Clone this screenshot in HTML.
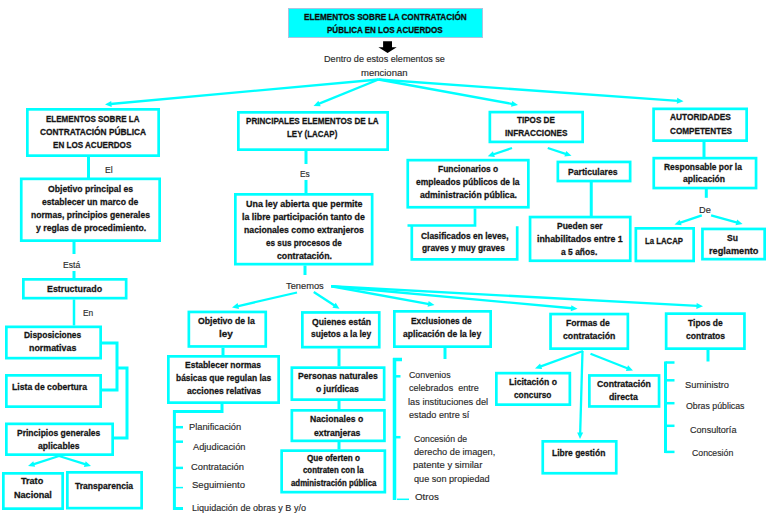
<!DOCTYPE html>
<html><head><meta charset="utf-8"><style>
html,body{margin:0;padding:0;background:#fff;}
body{width:768px;height:515px;position:relative;overflow:hidden;font-family:"Liberation Sans",sans-serif;}
.b{position:absolute;box-sizing:border-box;border:3px solid #00FFFF;}
.t{position:absolute;white-space:nowrap;line-height:1;transform-origin:0 0;}
.w7{-webkit-text-stroke:0.28px #151515;}
.w4{-webkit-text-stroke:0.15px #2a2a2a;}
svg{position:absolute;left:0;top:0;}
svg line,svg polyline,svg rect{stroke:#00FFFF;}
svg rect{fill:none;}
svg polygon{fill:#00FFFF;}
</style></head><body>

<div class="b" style="left:288px;top:8px;width:195px;height:30px;border:1px solid #a9c4e0;background:#00ffff"></div>
<svg width="768" height="515" viewBox="0 0 768 515">
<rect x="27.35" y="109.35" width="131.3" height="46.3" stroke-width="2.7"/>
<rect x="21.25" y="178.85" width="138.4" height="61.8" stroke-width="2.7"/>
<rect x="23.35" y="279.35" width="102.8" height="18.8" stroke-width="2.7"/>
<rect x="6.35" y="326.85" width="94.3" height="31.3" stroke-width="2.7"/>
<rect x="6.35" y="375.35" width="94.3" height="31.3" stroke-width="2.7"/>
<rect x="6.35" y="423.85" width="106.3" height="30.8" stroke-width="2.7"/>
<rect x="3.35" y="473.35" width="59.3" height="35.3" stroke-width="2.7"/>
<rect x="67.35" y="472.35" width="74.3" height="35.8" stroke-width="2.7"/>
<rect x="238.35" y="112.35" width="149.3" height="37.3" stroke-width="2.7"/>
<rect x="235.35" y="194.35" width="136.8" height="69.8" stroke-width="2.7"/>
<rect x="188.85" y="311.95" width="76.9" height="34.5" stroke-width="2.7"/>
<rect x="168.35" y="356.35" width="110.3" height="46.3" stroke-width="2.7"/>
<rect x="302.35" y="312.45" width="76.9" height="34.7" stroke-width="2.7"/>
<rect x="291.85" y="367.65" width="92.3" height="32" stroke-width="2.7"/>
<rect x="291.85" y="410.35" width="92.6" height="30.5" stroke-width="2.7"/>
<rect x="281.65" y="450.65" width="103.2" height="41.5" stroke-width="2.7"/>
<rect x="394.35" y="311.35" width="96.3" height="35.3" stroke-width="2.7"/>
<rect x="550.55" y="314.05" width="77.3" height="34.6" stroke-width="2.7"/>
<rect x="666.15" y="313.65" width="78.3" height="35" stroke-width="2.7"/>
<rect x="496.35" y="373.15" width="73.5" height="31.5" stroke-width="2.7"/>
<rect x="589.35" y="375.45" width="69.7" height="31" stroke-width="2.7"/>
<rect x="542.75" y="441.35" width="73.5" height="31.9" stroke-width="2.7"/>
<rect x="489.85" y="112.1" width="92.8" height="29.8" stroke-width="2.7"/>
<rect x="653.6" y="108.85" width="93.05" height="31.8" stroke-width="2.7"/>
<rect x="407.75" y="160.15" width="120.6" height="47.1" stroke-width="2.7"/>
<rect x="557.85" y="161.95" width="72.3" height="19.1" stroke-width="2.7"/>
<rect x="530.05" y="217.05" width="100.2" height="43.7" stroke-width="2.7"/>
<rect x="653.75" y="158.15" width="102.3" height="29.9" stroke-width="2.7"/>
<rect x="635.85" y="228.35" width="57.8" height="32.6" stroke-width="2.7"/>
<rect x="702.45" y="228.95" width="62.2" height="30.2" stroke-width="2.7"/>
<line x1="378.5" y1="79.5" x2="110.48" y2="104" stroke-width="2.3"/>
<polygon points="105,104.5 111.2,100.92 111.75,106.9" stroke="none"/>
<line x1="378.5" y1="79.5" x2="318.59" y2="103.92" stroke-width="2.3"/>
<polygon points="313.5,106 318.39,100.77 320.65,106.32" stroke="none"/>
<line x1="378.5" y1="79.5" x2="512.59" y2="104.01" stroke-width="2.3"/>
<polygon points="518,105 511.07,106.78 512.15,100.88" stroke="none"/>
<line x1="378.5" y1="79.5" x2="678.01" y2="100.91" stroke-width="2.3"/>
<polygon points="683.5,101.3 676.8,103.83 677.23,97.84" stroke="none"/>
<line x1="88.5" y1="157" x2="88.5" y2="178" stroke-width="3"/>
<line x1="74" y1="242" x2="74" y2="254" stroke-width="3"/>
<line x1="74" y1="271" x2="74" y2="278" stroke-width="3"/>
<line x1="74" y1="299.5" x2="74" y2="325.5" stroke-width="2.5"/>
<polyline points="102,343 117,343 117,390 102,390" stroke-width="3" fill="none"/>
<polyline points="117,368 127,368 127,438 114,438" stroke-width="3" fill="none"/>
<line x1="59" y1="456" x2="33.23" y2="464.31" stroke-width="2.3"/>
<polygon points="28,466 33.27,461.15 35.11,466.86" stroke="none"/>
<line x1="59" y1="456" x2="85.75" y2="464.36" stroke-width="2.3"/>
<polygon points="91,466 83.9,466.92 85.69,461.2" stroke="none"/>
<line x1="306" y1="151" x2="306" y2="164" stroke-width="3"/>
<line x1="306" y1="180" x2="306" y2="193" stroke-width="3"/>
<line x1="305" y1="265.5" x2="305" y2="275" stroke-width="3"/>
<line x1="297" y1="292.5" x2="237.36" y2="306.26" stroke-width="2.3"/>
<polygon points="232,307.5 237.66,303.12 239.01,308.96" stroke="none"/>
<line x1="313.75" y1="292" x2="334.89" y2="305.75" stroke-width="2.3"/>
<polygon points="339.5,308.75 332.42,307.72 335.69,302.69" stroke="none"/>
<line x1="331.25" y1="286.25" x2="429.09" y2="304.02" stroke-width="2.3"/>
<polygon points="434.5,305 427.57,306.79 428.64,300.89" stroke="none"/>
<line x1="331.25" y1="286.25" x2="572.02" y2="308.25" stroke-width="2.3"/>
<polygon points="577.5,308.75 570.75,311.15 571.3,305.17" stroke="none"/>
<line x1="331.25" y1="286.25" x2="697.51" y2="305.95" stroke-width="2.3"/>
<polygon points="703,306.25 696.35,308.9 696.67,302.91" stroke="none"/>
<line x1="223" y1="347.8" x2="223" y2="355" stroke-width="3"/>
<polyline points="222,403.6 222,411.5 174.4,411.5 174.4,508.5 183,508.5" stroke-width="3" fill="none"/>
<line x1="174.4" y1="427.2" x2="183" y2="427.2" stroke-width="2.5"/>
<line x1="174.4" y1="441.7" x2="183" y2="441.7" stroke-width="2.5"/>
<line x1="174.4" y1="467.9" x2="183" y2="467.9" stroke-width="2.5"/>
<line x1="174.4" y1="487.6" x2="183" y2="487.6" stroke-width="1.5"/>
<line x1="339" y1="348.5" x2="339" y2="366.3" stroke-width="3"/>
<line x1="339" y1="401" x2="339" y2="409.2" stroke-width="3"/>
<line x1="339" y1="441.5" x2="339" y2="449.5" stroke-width="3"/>
<line x1="445" y1="348" x2="445" y2="359" stroke-width="3"/>
<line x1="394.5" y1="358" x2="394.5" y2="500" stroke-width="3.5"/>
<line x1="393" y1="359.5" x2="402" y2="359.5" stroke-width="3.5"/>
<line x1="394.5" y1="376.3" x2="400.5" y2="376.3" stroke-width="2.5"/>
<line x1="394.5" y1="437.2" x2="400.5" y2="437.2" stroke-width="2.5"/>
<line x1="397" y1="499.3" x2="409" y2="499.3" stroke-width="1.5"/>
<line x1="583" y1="351" x2="540.17" y2="366.62" stroke-width="2.3"/>
<polygon points="535,368.5 540.08,363.46 542.13,369.09" stroke="none"/>
<line x1="582.5" y1="351" x2="580.16" y2="433.5" stroke-width="2.3"/>
<polygon points="580,439 577.19,432.42 583.18,432.59" stroke="none"/>
<line x1="590.5" y1="353.75" x2="627.88" y2="368.48" stroke-width="2.3"/>
<polygon points="633,370.5 625.85,370.91 628.05,365.33" stroke="none"/>
<line x1="708" y1="350" x2="708" y2="361.5" stroke-width="3"/>
<line x1="665.5" y1="361.5" x2="665.5" y2="453" stroke-width="3"/>
<line x1="665.5" y1="362.5" x2="674.5" y2="362.5" stroke-width="2.5"/>
<line x1="665.5" y1="380.3" x2="674.5" y2="380.3" stroke-width="2.5"/>
<line x1="665.5" y1="403.2" x2="674.5" y2="403.2" stroke-width="2.5"/>
<line x1="665.5" y1="425.8" x2="674.5" y2="425.8" stroke-width="2.5"/>
<line x1="665.5" y1="451.9" x2="674.5" y2="451.9" stroke-width="2.5"/>
<line x1="512" y1="148" x2="492.96" y2="154.48" stroke-width="2.3"/>
<polygon points="487.75,156.25 492.94,151.32 494.87,157" stroke="none"/>
<line x1="547.75" y1="148" x2="566.27" y2="154.04" stroke-width="2.3"/>
<polygon points="571.5,155.75 564.39,156.59 566.25,150.88" stroke="none"/>
<polyline points="475,208.6 475,225.5 407.5,225.5" stroke-width="2.7" fill="none"/>
<polyline points="411.8,225.5 411.8,259.3 517.2,259.3 517.2,226.3" stroke-width="2.7" fill="none"/>
<line x1="591.25" y1="182" x2="591.25" y2="216.25" stroke-width="3"/>
<line x1="704" y1="142" x2="704" y2="157.25" stroke-width="3"/>
<line x1="706.3" y1="189" x2="706.3" y2="197.8" stroke-width="3"/>
<line x1="701.8" y1="215.3" x2="679.71" y2="222.83" stroke-width="2.3"/>
<polygon points="674.5,224.6 679.69,219.66 681.62,225.34" stroke="none"/>
<line x1="711.1" y1="215.3" x2="737.3" y2="222.62" stroke-width="2.3"/>
<polygon points="742.6,224.1 735.53,225.24 737.15,219.46" stroke="none"/>
<polygon points="383.1,41.2 392,41.2 392,47.25 396.7,47.25 387.6,52.9 378.4,47.25 383.1,47.25" style="fill:#000" stroke="none"/>
</svg>
<div class="t w7" style="left:304px;top:13.1px;font-size:8.3px;font-weight:700;color:#0a0a0a;transform:scaleX(0.9878)">ELEMENTOS SOBRE LA CONTRATACIÓN</div>
<div class="t w7" style="left:327.3px;top:25.9px;font-size:8.3px;font-weight:700;color:#0a0a0a;transform:scaleX(0.9697)">PÚBLICA EN LOS ACUERDOS</div>
<div class="t w4" style="left:323.82px;top:55.1px;font-size:9.3px;font-weight:400;color:#2a2a2a;transform:scaleX(0.9787)">Dentro de estos elementos se</div>
<div class="t w4" style="left:361.48px;top:68.5px;font-size:9.3px;font-weight:400;color:#2a2a2a;transform:scaleX(1.0227)">mencionan</div>
<div class="t w7" style="left:46.16px;top:114.1px;font-size:9.6px;font-weight:700;color:#151515;transform:scaleX(0.8364)">ELEMENTOS SOBRE LA</div>
<div class="t w7" style="left:40.25px;top:127.4px;font-size:9.6px;font-weight:700;color:#151515;transform:scaleX(0.8719)">CONTRATACIÓN PÚBLICA</div>
<div class="t w7" style="left:53.41px;top:140.3px;font-size:9.6px;font-weight:700;color:#151515;transform:scaleX(0.8424)">EN LOS ACUERDOS</div>
<div class="t w4" style="left:105.02px;top:165.8px;font-size:9.3px;font-weight:400;color:#2a2a2a;transform:scaleX(0.9286)">El</div>
<div class="t w7" style="left:48.22px;top:183.5px;font-size:9.6px;font-weight:700;color:#151515;transform:scaleX(0.9016)">Objetivo principal es</div>
<div class="t w7" style="left:42.28px;top:196.6px;font-size:9.6px;font-weight:700;color:#151515;transform:scaleX(0.8995)">establecer un marco de</div>
<div class="t w7" style="left:30.83px;top:209.9px;font-size:9.6px;font-weight:700;color:#151515;transform:scaleX(0.8920)">normas, principios generales</div>
<div class="t w7" style="left:35.53px;top:223px;font-size:9.6px;font-weight:700;color:#151515;transform:scaleX(0.9070)">y reglas de procedimiento.</div>
<div class="t w4" style="left:62.69px;top:261.3px;font-size:9.3px;font-weight:400;color:#2a2a2a;transform:scaleX(0.9306)">Está</div>
<div class="t w7" style="left:46.58px;top:284.05px;font-size:9.6px;font-weight:700;color:#151515;transform:scaleX(0.9224)">Estructurado</div>
<div class="t w4" style="left:83.1px;top:308.8px;font-size:9.3px;font-weight:400;color:#2a2a2a;transform:scaleX(0.9000)">En</div>
<div class="t w7" style="left:24.1px;top:330.3px;font-size:9.6px;font-weight:700;color:#151515;transform:scaleX(0.8789)">Disposiciones</div>
<div class="t w7" style="left:29.05px;top:343.4px;font-size:9.6px;font-weight:700;color:#151515;transform:scaleX(0.9250)">normativas</div>
<div class="t w7" style="left:12.1px;top:381.9px;font-size:9.6px;font-weight:700;color:#151515;transform:scaleX(0.9024)">Lista de cobertura</div>
<div class="t w7" style="left:16.61px;top:427.5px;font-size:9.6px;font-weight:700;color:#151515;transform:scaleX(0.8871)">Principios generales</div>
<div class="t w7" style="left:38.27px;top:440.6px;font-size:9.6px;font-weight:700;color:#151515;transform:scaleX(0.8967)">aplicables</div>
<div class="t w7" style="left:21.23px;top:476.3px;font-size:9.6px;font-weight:700;color:#151515;transform:scaleX(0.9457)">Trato</div>
<div class="t w7" style="left:13.55px;top:489.8px;font-size:9.6px;font-weight:700;color:#151515;transform:scaleX(0.9474)">Nacional</div>
<div class="t w7" style="left:75px;top:481.3px;font-size:9.6px;font-weight:700;color:#151515;transform:scaleX(0.8923)">Transparencia</div>
<div class="t w7" style="left:245.66px;top:115.9px;font-size:9.6px;font-weight:700;color:#151515;transform:scaleX(0.8429)">PRINCIPALES ELEMENTOS DE LA</div>
<div class="t w7" style="left:287.42px;top:129.2px;font-size:9.6px;font-weight:700;color:#151515;transform:scaleX(0.8305)">LEY (LACAP)</div>
<div class="t w4" style="left:300.1px;top:170.05px;font-size:9.3px;font-weight:400;color:#2a2a2a;transform:scaleX(0.9000)">Es</div>
<div class="t w7" style="left:246.27px;top:198.6px;font-size:9.6px;font-weight:700;color:#151515;transform:scaleX(0.9300)">Una ley abierta que permite</div>
<div class="t w7" style="left:242.3px;top:211.6px;font-size:9.6px;font-weight:700;color:#151515;transform:scaleX(0.9223)">la libre participación tanto de</div>
<div class="t w7" style="left:243.92px;top:224.6px;font-size:9.6px;font-weight:700;color:#151515;transform:scaleX(0.9065)">nacionales como extranjeros</div>
<div class="t w7" style="left:266.32px;top:237.9px;font-size:9.6px;font-weight:700;color:#151515;transform:scaleX(0.8511)">es sus procesos de</div>
<div class="t w7" style="left:276.82px;top:250.7px;font-size:9.6px;font-weight:700;color:#151515;transform:scaleX(0.9125)">contratación.</div>
<div class="t w4" style="left:286px;top:282.05px;font-size:9.3px;font-weight:400;color:#2a2a2a;transform:scaleX(1.0000)">Tenemos</div>
<div class="t w7" style="left:197.85px;top:315.8px;font-size:9.6px;font-weight:700;color:#151515;transform:scaleX(0.9032)">Objetivo de la</div>
<div class="t w7" style="left:219.46px;top:328.7px;font-size:9.6px;font-weight:700;color:#151515;transform:scaleX(1.0417)">ley</div>
<div class="t w7" style="left:185.22px;top:359.9px;font-size:9.6px;font-weight:700;color:#151515;transform:scaleX(0.8847)">Establecer normas</div>
<div class="t w7" style="left:175.72px;top:373.3px;font-size:9.6px;font-weight:700;color:#151515;transform:scaleX(0.8785)">básicas que regulan las</div>
<div class="t w7" style="left:187.15px;top:386.4px;font-size:9.6px;font-weight:700;color:#151515;transform:scaleX(0.8939)">acciones relativas</div>
<div class="t w4" style="left:189px;top:423px;font-size:9.3px;font-weight:400;color:#2a2a2a;transform:scaleX(1.0000)">Planificación</div>
<div class="t w4" style="left:193.3px;top:443.3px;font-size:9.3px;font-weight:400;color:#2a2a2a;transform:scaleX(0.9942)">Adjudicación</div>
<div class="t w4" style="left:190.7px;top:462.9px;font-size:9.3px;font-weight:400;color:#2a2a2a;transform:scaleX(1.0058)">Contratación</div>
<div class="t w4" style="left:191.78px;top:480.5px;font-size:9.3px;font-weight:400;color:#2a2a2a;transform:scaleX(1.0240)">Seguimiento</div>
<div class="t w4" style="left:191.82px;top:503.6px;font-size:9.3px;font-weight:400;color:#2a2a2a;transform:scaleX(0.9759)">Liquidación de obras y B y/o</div>
<div class="t w7" style="left:311.5px;top:316.7px;font-size:9.6px;font-weight:700;color:#151515;transform:scaleX(0.9015)">Quienes están</div>
<div class="t w7" style="left:310.75px;top:328.7px;font-size:9.6px;font-weight:700;color:#151515;transform:scaleX(0.8824)">sujetos a la ley</div>
<div class="t w7" style="left:297.9px;top:371.1px;font-size:9.6px;font-weight:700;color:#151515;transform:scaleX(0.9011)">Personas naturales</div>
<div class="t w7" style="left:316.25px;top:383.7px;font-size:9.6px;font-weight:700;color:#151515;transform:scaleX(0.8937)">o jurídicas</div>
<div class="t w7" style="left:310.35px;top:414.3px;font-size:9.6px;font-weight:700;color:#151515;transform:scaleX(0.8983)">Nacionales o</div>
<div class="t w7" style="left:314.2px;top:427.6px;font-size:9.6px;font-weight:700;color:#151515;transform:scaleX(0.9059)">extranjeras</div>
<div class="t w7" style="left:307px;top:454.3px;font-size:8.5px;font-weight:700;color:#151515;transform:scaleX(0.9600)">Que oferten o</div>
<div class="t w7" style="left:302.9px;top:466.4px;font-size:8.5px;font-weight:700;color:#151515;transform:scaleX(0.9242)">contraten con la</div>
<div class="t w7" style="left:290.5px;top:478.5px;font-size:8.5px;font-weight:700;color:#151515;transform:scaleX(0.9226)">administración pública</div>
<div class="t w7" style="left:411.13px;top:316px;font-size:9.6px;font-weight:700;color:#151515;transform:scaleX(0.8696)">Exclusiones de</div>
<div class="t w7" style="left:403.02px;top:328.8px;font-size:9.6px;font-weight:700;color:#151515;transform:scaleX(0.8937)">aplicación de la ley</div>
<div class="t w4" style="left:408.8px;top:371.3px;font-size:9.3px;font-weight:400;color:#2a2a2a;transform:scaleX(0.9477)">Convenios</div>
<div class="t w4" style="left:408.8px;top:384.1px;font-size:9.3px;font-weight:400;color:#2a2a2a;transform:scaleX(0.9708)">celebrados  entre</div>
<div class="t w4" style="left:407.81px;top:397.6px;font-size:9.3px;font-weight:400;color:#2a2a2a;transform:scaleX(0.9937)">las instituciones del</div>
<div class="t w4" style="left:408.8px;top:411px;font-size:9.3px;font-weight:400;color:#2a2a2a;transform:scaleX(0.9820)">estado entre sí</div>
<div class="t w4" style="left:414.3px;top:435.05px;font-size:9.3px;font-weight:400;color:#2a2a2a;transform:scaleX(0.9333)">Concesión de</div>
<div class="t w4" style="left:414.3px;top:448.2px;font-size:9.3px;font-weight:400;color:#2a2a2a;transform:scaleX(0.9889)">derecho de imagen,</div>
<div class="t w4" style="left:413.28px;top:461px;font-size:9.3px;font-weight:400;color:#2a2a2a;transform:scaleX(1.0242)">patente y similar</div>
<div class="t w4" style="left:414.3px;top:474.5px;font-size:9.3px;font-weight:400;color:#2a2a2a;transform:scaleX(0.9818)">que son propiedad</div>
<div class="t w4" style="left:415.2px;top:492.7px;font-size:9.3px;font-weight:400;color:#2a2a2a;transform:scaleX(1.0500)">Otros</div>
<div class="t w7" style="left:566.35px;top:318.2px;font-size:9.6px;font-weight:700;color:#151515;transform:scaleX(0.9043)">Formas de</div>
<div class="t w7" style="left:562.6px;top:331.1px;font-size:9.6px;font-weight:700;color:#151515;transform:scaleX(0.9088)">contratación</div>
<div class="t w7" style="left:687.75px;top:317.9px;font-size:9.6px;font-weight:700;color:#151515;transform:scaleX(0.8846)">Tipos de</div>
<div class="t w7" style="left:685.98px;top:331px;font-size:9.6px;font-weight:700;color:#151515;transform:scaleX(0.8920)">contratos</div>
<div class="t w4" style="left:685.2px;top:380.6px;font-size:9.3px;font-weight:400;color:#2a2a2a;transform:scaleX(1.0023)">Suministro</div>
<div class="t w4" style="left:686px;top:402.3px;font-size:9.3px;font-weight:400;color:#2a2a2a;transform:scaleX(0.9435)">Obras públicas</div>
<div class="t w4" style="left:689.7px;top:425.6px;font-size:9.3px;font-weight:400;color:#2a2a2a;transform:scaleX(0.9766)">Consultoría</div>
<div class="t w4" style="left:692px;top:449.3px;font-size:9.3px;font-weight:400;color:#2a2a2a;transform:scaleX(0.9386)">Concesión</div>
<div class="t w7" style="left:508.63px;top:377px;font-size:9.6px;font-weight:700;color:#151515;transform:scaleX(0.8990)">Licitación o</div>
<div class="t w7" style="left:514.48px;top:390px;font-size:9.6px;font-weight:700;color:#151515;transform:scaleX(0.8663)">concurso</div>
<div class="t w7" style="left:597.02px;top:379.1px;font-size:9.6px;font-weight:700;color:#151515;transform:scaleX(0.9110)">Contratación</div>
<div class="t w7" style="left:609.48px;top:392.3px;font-size:9.6px;font-weight:700;color:#151515;transform:scaleX(0.9141)">directa</div>
<div class="t w7" style="left:552.49px;top:448.4px;font-size:9.6px;font-weight:700;color:#151515;transform:scaleX(0.8856)">Libre gestión</div>
<div class="t w7" style="left:517.25px;top:115.3px;font-size:9.6px;font-weight:700;color:#151515;transform:scaleX(0.8444)">TIPOS DE</div>
<div class="t w7" style="left:504.9px;top:128.3px;font-size:9.6px;font-weight:700;color:#151515;transform:scaleX(0.8542)">INFRACCIONES</div>
<div class="t w7" style="left:670.23px;top:112.3px;font-size:9.6px;font-weight:700;color:#151515;transform:scaleX(0.8679)">AUTORIDADES</div>
<div class="t w7" style="left:669.75px;top:125.5px;font-size:9.6px;font-weight:700;color:#151515;transform:scaleX(0.8493)">COMPETENTES</div>
<div class="t w7" style="left:437.88px;top:164.1px;font-size:9.6px;font-weight:700;color:#151515;transform:scaleX(0.8750)">Funcionarios o</div>
<div class="t w7" style="left:416.23px;top:177.3px;font-size:9.6px;font-weight:700;color:#151515;transform:scaleX(0.8868)">empleados públicos de la</div>
<div class="t w7" style="left:419.93px;top:190.4px;font-size:9.6px;font-weight:700;color:#151515;transform:scaleX(0.9042)">administración pública.</div>
<div class="t w7" style="left:420.5px;top:230.8px;font-size:9.6px;font-weight:700;color:#151515;transform:scaleX(0.8788)">Clasificados en leves,</div>
<div class="t w7" style="left:422px;top:243.2px;font-size:9.6px;font-weight:700;color:#151515;transform:scaleX(0.8737)">graves y muy graves</div>
<div class="t w7" style="left:568.32px;top:166.55px;font-size:9.6px;font-weight:700;color:#151515;transform:scaleX(0.9028)">Particulares</div>
<div class="t w7" style="left:556.62px;top:220.7px;font-size:9.6px;font-weight:700;color:#151515;transform:scaleX(0.8824)">Pueden ser</div>
<div class="t w7" style="left:536.58px;top:233.9px;font-size:9.6px;font-weight:700;color:#151515;transform:scaleX(0.9185)">inhabilitados entre 1</div>
<div class="t w7" style="left:561.27px;top:246.9px;font-size:9.6px;font-weight:700;color:#151515;transform:scaleX(0.8841)">a 5 años.</div>
<div class="t w7" style="left:664.32px;top:161.7px;font-size:9.6px;font-weight:700;color:#151515;transform:scaleX(0.8795)">Responsable por la</div>
<div class="t w7" style="left:683.1px;top:174px;font-size:9.6px;font-weight:700;color:#151515;transform:scaleX(0.8978)">aplicación</div>
<div class="t w4" style="left:698.56px;top:205.8px;font-size:9.3px;font-weight:400;color:#2a2a2a;transform:scaleX(0.9909)">De</div>
<div class="t w7" style="left:644.89px;top:235.5px;font-size:9.6px;font-weight:700;color:#151515;transform:scaleX(0.8087)">La LACAP</div>
<div class="t w7" style="left:727.21px;top:232.7px;font-size:9.6px;font-weight:700;color:#151515;transform:scaleX(0.8909)">Su</div>
<div class="t w7" style="left:708.54px;top:246px;font-size:9.6px;font-weight:700;color:#151515;transform:scaleX(0.9560)">reglamento</div>
</body></html>
